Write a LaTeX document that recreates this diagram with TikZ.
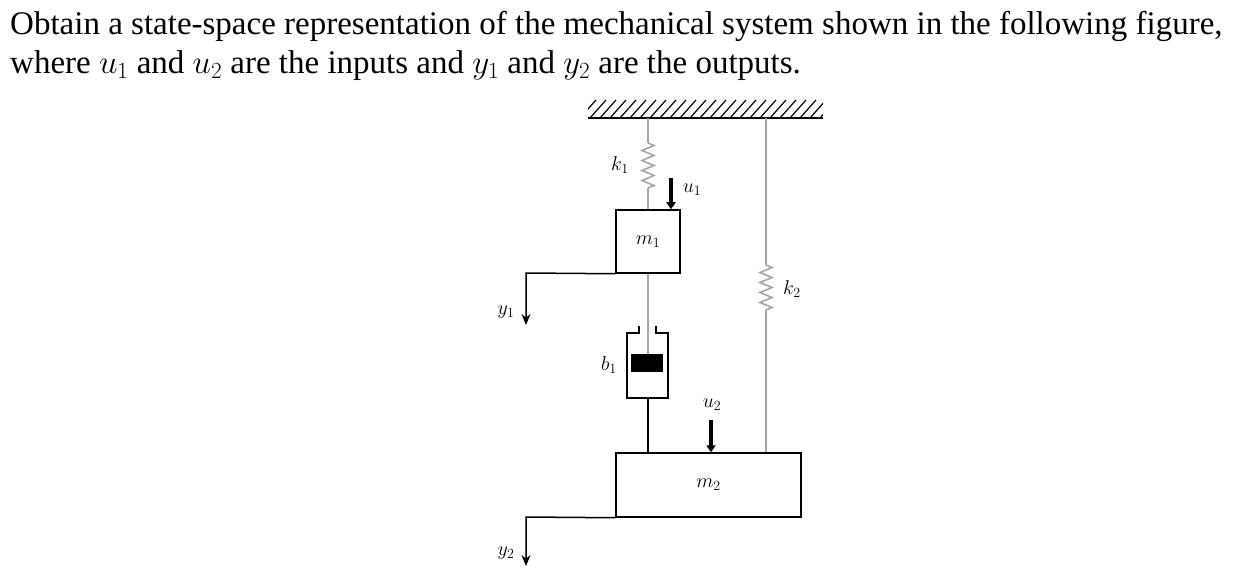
\RequirePackage{fix-cm}
\documentclass[tikz,border=0pt]{standalone}
\usepackage{fontspec}
\setmainfont{Liberation Serif}
\usetikzlibrary{decorations.pathmorphing,arrows.meta}
\begin{document}
\begin{tikzpicture}[x=1pt,y=-1pt,
  rod/.style={gray!70,line width=1.6pt},
  frame/.style={black,line width=1.5pt},
  spring/.style={rod,decorate,decoration={zigzag,segment length=10pt,amplitude=6pt}},
  mass/.style={frame,draw,fill=white,minimum width=#1,inner sep=0pt},
  lbl/.style={font=\fontsize{20}{20}\selectfont,inner sep=1pt},
  force/.style={line width=4pt,-{Triangle[width=9pt,length=7pt]}},
  disp/.style={frame,-{Stealth[width=9pt,length=11pt]}}]
\useasboundingbox (0,0) rectangle (1242,580);
% problem statement
\node[anchor=west,inner sep=0pt,font=\fontsize{33}{38}\selectfont] (line1) at (10,26)
  {Obtain a state-space representation of the mechanical system shown in the following figure,};
\node[anchor=west,inner sep=0pt,font=\fontsize{33}{38}\selectfont] (line2) at (10,66)
  {where $u_1$ and $u_2$ are the inputs and $y_1$ and $y_2$ are the outputs.};
% ceiling
\begin{scope}
\clip (588,100) rectangle (823,118);
\foreach \h in {580,590,...,830}
  \draw[line width=1.2pt] (\h,118) -- (\h+16,100);
\end{scope}
\draw[frame] (588,118) -- (823,118);
\coordinate (top1) at (648,118);
\coordinate (top2) at (766,118);
% masses
\node[mass=64pt,minimum height=63pt] (m1) at (648,241.5) {};
\node[lbl] at (m1.center) {$m_1$};
\node[mass=185pt,minimum height=64pt] (m2) at (708.5,485) {};
\node[lbl] at (m2.center) {$m_2$};
% spring k1
\coordinate (s1a) at (648,143);
\coordinate (s1b) at (648,188);
\draw[rod] (top1) -- (s1a);
\draw[spring] (s1a) -- (s1b);
\draw[rod] (s1b) -- (m1.north -| s1b);
\node[lbl] (k1) at (620,165) {$k_1$};
% spring k2
\coordinate (s2a) at (766,265);
\coordinate (s2b) at (766,310);
\draw[rod] (top2) -- (s2a);
\draw[spring] (s2a) -- (s2b);
\draw[rod] (s2b) -- (m2.north -| s2b);
\node[lbl] (k2) at (792,289) {$k_2$};
% damper b1
\draw[rod] (m1.south -| top1) -- (648,363);
\fill (631,354) rectangle (663,372);
\draw[frame] (639,326) -- (639,333) -- (627,333) -- (627,398) -- (668,398) -- (668,333) -- (656,333) -- (656,326);
\draw[frame] (648,398) -- (m2.north -| top1);
\node[lbl] (b1) at (609,365) {$b_1$};
% forces
\coordinate (u1s) at (671,178);
\draw[force] (u1s) -- (m1.north -| u1s);
\node[lbl] (u1) at (692,190) {$u_1$};
\coordinate (u2s) at (711,420);
\draw[force] (u2s) -- (m2.north -| u2s);
\node[lbl] (u2) at (712,405) {$u_2$};
% outputs
\coordinate (y1c) at (526,273);
\coordinate (y1e) at (526,325);
\draw[disp] (m1.south west) -- (y1c) -- (y1e);
\node[lbl] (y1) at (506,312) {$y_1$};
\coordinate (y2c) at (526,517);
\coordinate (y2e) at (526,566);
\draw[disp] (m2.south west) -- (y2c) -- (y2e);
\node[lbl] (y2) at (506,553) {$y_2$};
\end{tikzpicture}
\end{document}
